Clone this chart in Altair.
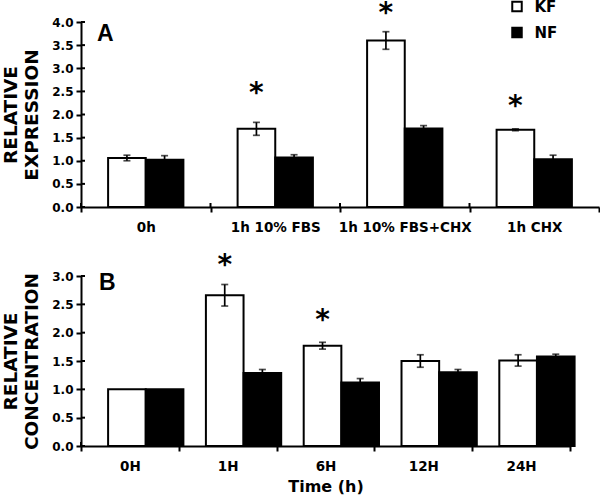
import altair as alt
import pandas as pd

# ---------------- data ----------------
groups = ["KF", "NF"]

cats_a = ["0h", "1h 10% FBS", "1h 10% FBS+CHX", "1h CHX"]
kf_a = [1.06, 1.69, 3.60, 1.67]
kf_a_err = [0.06, 0.14, 0.19, 0.02]
nf_a = [1.02, 1.07, 1.70, 1.03]
nf_a_err = [0.09, 0.06, 0.06, 0.09]
star_a = [None, 2.57, 4.31, 2.29]

cats_b = ["0H", "1H", "6H", "12H", "24H"]
kf_b = [1.00, 2.66, 1.77, 1.50, 1.51]
kf_b_err = [0.0, 0.19, 0.06, 0.11, 0.10]
nf_b = [1.00, 1.29, 1.12, 1.30, 1.58]
nf_b_err = [0.0, 0.06, 0.07, 0.05, 0.04]
star_b = [None, 3.28, 2.31, None, None]

ticks_a = [0.0, 0.5, 1.0, 1.5, 2.0, 2.5, 3.0, 3.5, 4.0]
ticks_b = [0.0, 0.5, 1.0, 1.5, 2.0, 2.5, 3.0]

FONT = "DejaVu Sans"
LW = 2


def long_df(cats, kf, kf_err, nf, nf_err):
    rows = []
    for c, v, e in zip(cats, kf, kf_err):
        rows.append({"cat": c, "group": "KF", "value": v, "lo": v - e, "hi": v + e, "err": e})
    for c, v, e in zip(cats, nf, nf_err):
        rows.append({"cat": c, "group": "NF", "value": v, "lo": v - e, "hi": v + e, "err": e})
    return pd.DataFrame(rows)


def star_df(cats, stars):
    return pd.DataFrame([{"cat": c, "group": "KF", "star": s} for c, s in zip(cats, stars) if s is not None])


def panel(cats, df, sdf, ticks, ymax, width, height, ytitle, xtitle, letter, letter_x, letter_y,
          show_legend, last_tick):
    x_axis_kw = dict(labelAngle=0, tickBand="extent", labelFont=FONT, labelFontSize=13.5,
                     labelFontWeight="bold", labelColor="black", tickColor="black",
                     domainColor="black", domainWidth=LW, tickWidth=LW, tickSize=5,
                     labelPadding=8)
    if xtitle:
        x_axis = alt.Axis(title=xtitle, titleFont=FONT, titleFontSize=16, titleFontWeight="bold",
                          titleColor="black", titlePadding=6, **x_axis_kw)
    else:
        x_axis = alt.Axis(title=None, **x_axis_kw)
    xscale = alt.Scale(paddingInner=0, paddingOuter=0)
    x = alt.X("cat:N", sort=cats, scale=xscale, axis=x_axis)
    xo = alt.XOffset("group:N", sort=groups, scale=alt.Scale(paddingOuter=0.72, paddingInner=0))
    yscale = alt.Scale(domain=[0, ymax], nice=False)
    y_axis = alt.Axis(values=ticks, format=".1f", title=ytitle, titleFont=FONT, titleFontSize=18.5,
                      titleFontWeight="bold", titleColor="black", titleLineHeight=21,
                      titlePadding=10, labelFont=FONT, labelFontSize=12, labelFontWeight="bold",
                      labelColor="black", tickColor="black", domainColor="black",
                      domainWidth=LW, tickWidth=LW, tickSize=5, grid=False, labelPadding=3,
                      labelOverlap=False)

    def Y(field):
        return alt.Y(field, scale=yscale, axis=y_axis)

    if show_legend:
        legend = alt.Legend(title=None, orient="none", legendX=428.5, legendY=-23,
                            symbolType="square", symbolSize=90, symbolStrokeColor="black",
                            symbolStrokeWidth=2, labelFont=FONT, labelFontSize=15,
                            labelFontWeight="bold", labelColor="black", labelOffset=10,
                            rowPadding=7)
    else:
        legend = None
    fill = alt.Fill("group:N", scale=alt.Scale(domain=groups, range=["white", "black"]),
                    legend=legend)

    base = alt.Chart(df)
    bars = base.mark_bar(stroke="black", strokeWidth=LW).encode(
        x=x, xOffset=xo, y=Y("value:Q"), fill=fill)
    errs = base.transform_filter("datum.err > 0")
    rules = errs.mark_rule(color="black", strokeWidth=1.7).encode(
        x=x, xOffset=xo, y=Y("lo:Q"), y2="hi:Q")
    cap_hi = errs.mark_tick(color="black", thickness=1.7, size=7).encode(x=x, xOffset=xo, y=Y("hi:Q"))
    cap_lo = errs.mark_tick(color="black", thickness=1.7, size=7).encode(x=x, xOffset=xo, y=Y("lo:Q"))
    stars = alt.Chart(sdf).mark_text(text="*", font=FONT, fontSize=28, fontWeight="bold",
                                     baseline="middle", dy=6, color="black").encode(
        x=x, xOffset=xo, y=Y("star:Q"))
    lab = alt.Chart(pd.DataFrame({"t": [letter]})).mark_text(
        font="Liberation Sans", fontSize=23, fontWeight="bold", align="left", baseline="top",
        color="black").encode(text="t:N", x=alt.value(letter_x), y=alt.value(letter_y))

    # inward halves of the crossing tick marks
    ytick_in = alt.Chart(pd.DataFrame({"v": ticks})).mark_rule(color="black", strokeWidth=LW).encode(
        y=Y("v:Q"), x=alt.value(0), x2=alt.value(4))
    xb = pd.DataFrame({"cat": cats})
    xtick_in = alt.Chart(xb).mark_rule(color="black", strokeWidth=LW).encode(
        x=alt.X("cat:N", sort=cats, scale=xscale, axis=x_axis, bandPosition=0),
        y=alt.value(height - 4), y2=alt.value(height))
    layers = [bars, rules, cap_hi, cap_lo, stars, lab, ytick_in, xtick_in]
    if last_tick:
        xtick_end = alt.Chart(xb).transform_filter(
            alt.datum.cat == cats[-1]).mark_rule(color="black", strokeWidth=LW).encode(
            x=alt.X("cat:N", sort=cats, scale=xscale, axis=x_axis, bandPosition=1),
            y=alt.value(height - 4), y2=alt.value(height))
        layers.append(xtick_end)
    return alt.layer(*layers).properties(width=width, height=height)


df_a = long_df(cats_a, kf_a, kf_a_err, nf_a, nf_a_err)
df_b = long_df(cats_b, kf_b, kf_b_err, nf_b, nf_b_err)

pa = panel(cats_a, df_a, star_df(cats_a, star_a), ticks_a, 4.0, 518, 185,
           ["RELATIVE", "EXPRESSION"], None, "A", 16, 1, True, False)
pb = panel(cats_b, df_b, star_df(cats_b, star_b), ticks_b, 3.0, 489, 170,
           ["RELATIVE", "CONCENTRATION"], "Time (h)", "B", 18, -4, False, True)

chart = alt.vconcat(pa, pb, spacing=18).properties(
    padding={"left": 1, "top": -1, "right": 0, "bottom": 0}, background="white"
).configure_view(stroke=None)

chart.save("out.html", embed_options={"renderer": "svg", "actions": False})
